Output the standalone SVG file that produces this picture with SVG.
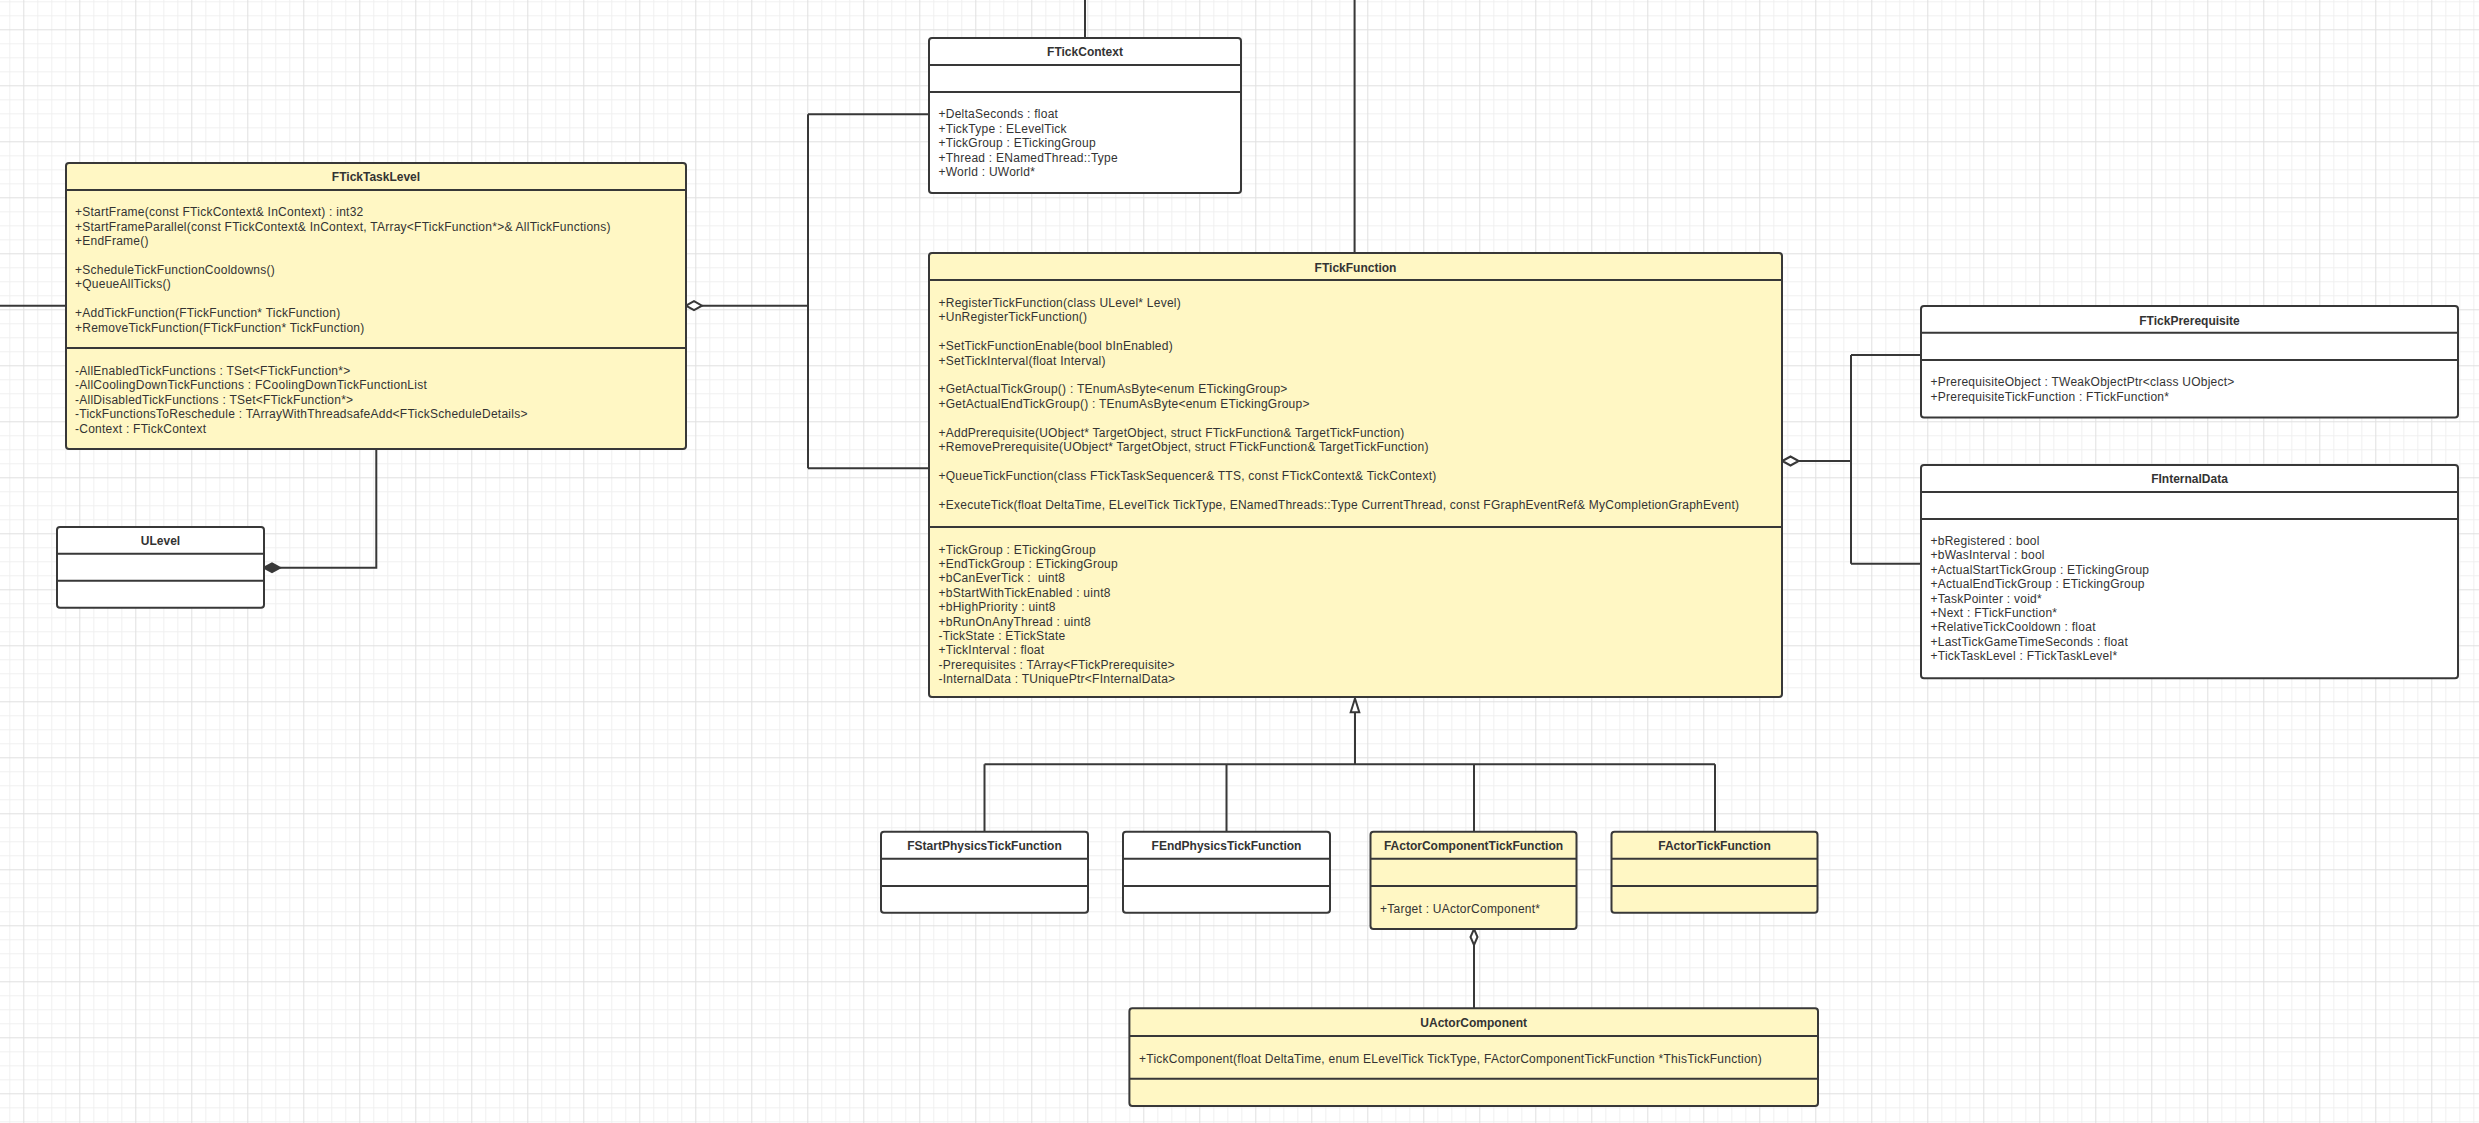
<svg xmlns="http://www.w3.org/2000/svg" width="2479" height="1123" viewBox="0 0 2479 1123">
<style>
.box{stroke:#383838;stroke-width:2}
.y{fill:#fff7c4}
.w{fill:#ffffff}
.sep{stroke:#383838;stroke-width:2;fill:none}
.t{font-family:"Liberation Sans",Arial,sans-serif;font-size:12px;font-weight:bold;fill:#333;text-anchor:middle}
.b{font-family:"Liberation Sans",Arial,sans-serif;font-size:12px;fill:#333;letter-spacing:0.25px}
.c{stroke:#383838;stroke-width:2;fill:none}
.ho{stroke:#383838;stroke-width:2;fill:#ffffff}
.fi{stroke:#383838;stroke-width:2;fill:#383838}
</style>
<defs>
<pattern id="grid" patternUnits="userSpaceOnUse" x="9.3" y="1.3" width="56" height="56">
<rect width="56" height="56" fill="#ffffff"/>
<rect x="0" y="0" width="1" height="56" fill="#f0f0f0"/>
<rect x="28" y="0" width="1" height="56" fill="#f0f0f0"/>
<rect x="42" y="0" width="1" height="56" fill="#f0f0f0"/>
<rect x="0" y="0" width="56" height="1" fill="#f0f0f0"/>
<rect x="0" y="14" width="56" height="1" fill="#f0f0f0"/>
<rect x="0" y="42" width="56" height="1" fill="#f0f0f0"/>
<rect x="14" y="0" width="1" height="56" fill="#e0e0e0"/>
<rect x="0" y="28" width="56" height="1" fill="#e0e0e0"/>
</pattern>
</defs>
<rect x="0" y="0" width="2479" height="1123" fill="url(#grid)"/>

<g id="connectors">
<path class="c" d="M0 305.7H66"/>
<path class="c" d="M702 305.7H808M808 114.3V468.3M808 114.3H929M808 468.3H929"/>
<polygon class="ho" points="686,305.7 694,301.2 702,305.7 694,310.2"/>
<path class="c" d="M1085 0V38"/>
<path class="c" d="M1354.6 0V253"/>
<path class="c" d="M376.3 449V567.7H280"/>
<polygon class="fi" points="264,567.7 272,563.4 280,567.7 272,572"/>
<path class="c" d="M1798.7 461H1851M1851 355V563.7M1851 355H1921M1851 563.7H1921"/>
<polygon class="ho" points="1782.3,461 1790.5,456.5 1798.7,461 1790.5,465.5"/>
<path class="c" d="M1355 712.3V764.3M984.5 764.3H1715M984.5 764.3V831.7M1226.5 764.3V831.7M1474 764.3V831.7M1715 764.3V831.7"/>
<polygon class="ho" points="1355,698.5 1359.3,712.3 1350.7,712.3"/>
<path class="c" d="M1474 945V1008.3"/>
<polygon class="ho" points="1474,929 1477.5,937 1474,945 1470.5,937"/>
</g>

<g id="FTickTaskLevel">
<rect class="box y" x="66" y="163" width="620" height="286" rx="3"/>
<path class="sep" d="M66 190H686M66 348H686"/>
<text class="t" x="376" y="181">FTickTaskLevel</text>
<text class="b">
<tspan x="75" y="216.3">+StartFrame(const FTickContext&amp; InContext) : int32</tspan>
<tspan x="75" y="230.7">+StartFrameParallel(const FTickContext&amp; InContext, TArray&lt;FTickFunction*&gt;&amp; AllTickFunctions)</tspan>
<tspan x="75" y="245.1">+EndFrame()</tspan>
<tspan x="75" y="273.9">+ScheduleTickFunctionCooldowns()</tspan>
<tspan x="75" y="288.3">+QueueAllTicks()</tspan>
<tspan x="75" y="317.1">+AddTickFunction(FTickFunction* TickFunction)</tspan>
<tspan x="75" y="331.5">+RemoveTickFunction(FTickFunction* TickFunction)</tspan>
</text>
<text class="b">
<tspan x="75" y="375">-AllEnabledTickFunctions : TSet&lt;FTickFunction*&gt;</tspan>
<tspan x="75" y="389.4">-AllCoolingDownTickFunctions : FCoolingDownTickFunctionList</tspan>
<tspan x="75" y="403.8">-AllDisabledTickFunctions : TSet&lt;FTickFunction*&gt;</tspan>
<tspan x="75" y="418.2">-TickFunctionsToReschedule : TArrayWithThreadsafeAdd&lt;FTickScheduleDetails&gt;</tspan>
<tspan x="75" y="432.6">-Context : FTickContext</tspan>
</text>
</g>

<g id="FTickContext">
<rect class="box w" x="929" y="38" width="312" height="155" rx="3"/>
<path class="sep" d="M929 65H1241M929 92H1241"/>
<text class="t" x="1085" y="56">FTickContext</text>
<text class="b">
<tspan x="938.5" y="118.3">+DeltaSeconds : float</tspan>
<tspan x="938.5" y="132.7">+TickType : ELevelTick</tspan>
<tspan x="938.5" y="147.1">+TickGroup : ETickingGroup</tspan>
<tspan x="938.5" y="161.5">+Thread : ENamedThread::Type</tspan>
<tspan x="938.5" y="175.9">+World : UWorld*</tspan>
</text>
</g>

<g id="FTickFunction">
<rect class="box y" x="929" y="253" width="853" height="444" rx="3"/>
<path class="sep" d="M929 280H1782M929 527H1782"/>
<text class="t" x="1355.5" y="271.5">FTickFunction</text>
<text class="b">
<tspan x="938.5" y="307">+RegisterTickFunction(class ULevel* Level)</tspan>
<tspan x="938.5" y="321.4">+UnRegisterTickFunction()</tspan>
<tspan x="938.5" y="350.2">+SetTickFunctionEnable(bool bInEnabled)</tspan>
<tspan x="938.5" y="364.6">+SetTickInterval(float Interval)</tspan>
<tspan x="938.5" y="393.4">+GetActualTickGroup() : TEnumAsByte&lt;enum ETickingGroup&gt;</tspan>
<tspan x="938.5" y="407.8">+GetActualEndTickGroup() : TEnumAsByte&lt;enum ETickingGroup&gt;</tspan>
<tspan x="938.5" y="436.6">+AddPrerequisite(UObject* TargetObject, struct FTickFunction&amp; TargetTickFunction)</tspan>
<tspan x="938.5" y="451">+RemovePrerequisite(UObject* TargetObject, struct FTickFunction&amp; TargetTickFunction)</tspan>
<tspan x="938.5" y="479.8">+QueueTickFunction(class FTickTaskSequencer&amp; TTS, const FTickContext&amp; TickContext)</tspan>
<tspan x="938.5" y="508.6">+ExecuteTick(float DeltaTime, ELevelTick TickType, ENamedThreads::Type CurrentThread, const FGraphEventRef&amp; MyCompletionGraphEvent)</tspan>
</text>
<text class="b">
<tspan x="938.5" y="553.6">+TickGroup : ETickingGroup</tspan>
<tspan x="938.5" y="568">+EndTickGroup : ETickingGroup</tspan>
<tspan x="938.5" y="582.4">+bCanEverTick : &#160;uint8</tspan>
<tspan x="938.5" y="596.8">+bStartWithTickEnabled : uint8</tspan>
<tspan x="938.5" y="611.2">+bHighPriority : uint8</tspan>
<tspan x="938.5" y="625.6">+bRunOnAnyThread : uint8</tspan>
<tspan x="938.5" y="640">-TickState : ETickState</tspan>
<tspan x="938.5" y="654.4">+TickInterval : float</tspan>
<tspan x="938.5" y="668.8">-Prerequisites : TArray&lt;FTickPrerequisite&gt;</tspan>
<tspan x="938.5" y="683.2">-InternalData : TUniquePtr&lt;FInternalData&gt;</tspan>
</text>
</g>

<g id="FTickPrerequisite">
<rect class="box w" x="1921" y="306" width="537" height="111.5" rx="3"/>
<path class="sep" d="M1921 332.7H2458M1921 360H2458"/>
<text class="t" x="2189.5" y="324.5">FTickPrerequisite</text>
<text class="b">
<tspan x="1930.5" y="386.3">+PrerequisiteObject : TWeakObjectPtr&lt;class UObject&gt;</tspan>
<tspan x="1930.5" y="400.7">+PrerequisiteTickFunction : FTickFunction*</tspan>
</text>
</g>

<g id="FInternalData">
<rect class="box w" x="1921" y="465" width="537" height="213.3" rx="3"/>
<path class="sep" d="M1921 492H2458M1921 519H2458"/>
<text class="t" x="2189.5" y="483">FInternalData</text>
<text class="b">
<tspan x="1930.5" y="545">+bRegistered : bool</tspan>
<tspan x="1930.5" y="559.4">+bWasInterval : bool</tspan>
<tspan x="1930.5" y="573.8">+ActualStartTickGroup : ETickingGroup</tspan>
<tspan x="1930.5" y="588.2">+ActualEndTickGroup : ETickingGroup</tspan>
<tspan x="1930.5" y="602.6">+TaskPointer : void*</tspan>
<tspan x="1930.5" y="617">+Next : FTickFunction*</tspan>
<tspan x="1930.5" y="631.4">+RelativeTickCooldown : float</tspan>
<tspan x="1930.5" y="645.8">+LastTickGameTimeSeconds : float</tspan>
<tspan x="1930.5" y="660.2">+TickTaskLevel : FTickTaskLevel*</tspan>
</text>
</g>

<g id="ULevel">
<rect class="box w" x="57" y="527" width="207" height="80.7" rx="3"/>
<path class="sep" d="M57 553.7H264M57 580.7H264"/>
<text class="t" x="160.5" y="544.8">ULevel</text>
</g>

<g id="FStartPhysicsTickFunction">
<rect class="box w" x="881" y="831.7" width="207" height="81" rx="3"/>
<path class="sep" d="M881 858.7H1088M881 886H1088"/>
<text class="t" x="984.5" y="849.7">FStartPhysicsTickFunction</text>
</g>

<g id="FEndPhysicsTickFunction">
<rect class="box w" x="1123" y="831.7" width="207" height="81" rx="3"/>
<path class="sep" d="M1123 858.7H1330M1123 886H1330"/>
<text class="t" x="1226.5" y="849.7">FEndPhysicsTickFunction</text>
</g>

<g id="FActorComponentTickFunction">
<rect class="box y" x="1370.5" y="831.7" width="206" height="97.3" rx="3"/>
<path class="sep" d="M1370.5 858.7H1576.5M1370.5 886H1576.5"/>
<text class="t" x="1473.5" y="849.7">FActorComponentTickFunction</text>
<text class="b" x="1380" y="912.6">+Target : UActorComponent*</text>
</g>

<g id="FActorTickFunction">
<rect class="box y" x="1611.5" y="831.7" width="206" height="81" rx="3"/>
<path class="sep" d="M1611.5 858.7H1817.5M1611.5 886H1817.5"/>
<text class="t" x="1714.5" y="849.7">FActorTickFunction</text>
</g>

<g id="UActorComponent">
<rect class="box y" x="1129.4" y="1008.3" width="688.6" height="97.7" rx="3"/>
<path class="sep" d="M1129.4 1036H1818M1129.4 1078.7H1818"/>
<text class="t" x="1473.7" y="1026.5">UActorComponent</text>
<text class="b" x="1139" y="1062.5">+TickComponent(float DeltaTime, enum ELevelTick TickType, FActorComponentTickFunction *ThisTickFunction)</text>
</g>
</svg>
